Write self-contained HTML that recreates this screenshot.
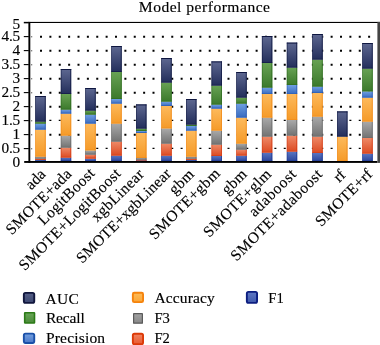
<!DOCTYPE html>
<html lang="en"><head><meta charset="utf-8"><title>Model performance</title>
<style>html,body{margin:0;padding:0;background:#fff}body{width:380px;height:345px;overflow:hidden}svg{display:block}text{font-family:"Liberation Serif","DejaVu Serif",serif;fill:#000;stroke:#000;stroke-width:0.15px}</style></head><body>
<svg width="380" height="345" viewBox="0 0 380 345">
<defs>
<linearGradient id="gF1" x1="0" y1="0" x2="0" y2="1"><stop offset="0" stop-color="#5a76c2"/><stop offset="1" stop-color="#2b459b"/></linearGradient>
<linearGradient id="gF2" x1="0" y1="0" x2="0" y2="1"><stop offset="0" stop-color="#ee8a68"/><stop offset="1" stop-color="#dc4a22"/></linearGradient>
<linearGradient id="gF3" x1="0" y1="0" x2="0" y2="1"><stop offset="0" stop-color="#a9a9a9"/><stop offset="1" stop-color="#727272"/></linearGradient>
<linearGradient id="gAcc" x1="0" y1="0" x2="0" y2="1"><stop offset="0" stop-color="#fdba5c"/><stop offset="1" stop-color="#f59a28"/></linearGradient>
<linearGradient id="gPre" x1="0" y1="0" x2="0" y2="1"><stop offset="0" stop-color="#70a0e2"/><stop offset="1" stop-color="#386abf"/></linearGradient>
<linearGradient id="gRec" x1="0" y1="0" x2="0" y2="1"><stop offset="0" stop-color="#68a254"/><stop offset="1" stop-color="#3b792b"/></linearGradient>
<linearGradient id="gAUC" x1="0" y1="0" x2="0" y2="1"><stop offset="0" stop-color="#5e6891"/><stop offset="1" stop-color="#232e5b"/></linearGradient>
</defs>
<rect width="380" height="345" fill="#fff"/>
<text x="138.8" y="11.6" font-size="15.6" textLength="131.2" lengthAdjust="spacing">Model performance</text>
<g stroke="#000" stroke-width="2" stroke-dasharray="2 7.375" fill="none">
<line x1="40.0" y1="148.40" x2="377.4" y2="148.40" stroke-width="1.2"/>
<line x1="40.0" y1="134.80" x2="377.4" y2="134.80"/>
<line x1="40.0" y1="120.40" x2="377.4" y2="120.40" stroke-width="1.2"/>
<line x1="40.0" y1="106.80" x2="377.4" y2="106.80"/>
<line x1="40.0" y1="92.80" x2="377.4" y2="92.80"/>
<line x1="40.0" y1="78.80" x2="377.4" y2="78.80"/>
<line x1="40.0" y1="64.80" x2="377.4" y2="64.80"/>
<line x1="40.0" y1="50.80" x2="377.4" y2="50.80"/>
<line x1="40.0" y1="36.80" x2="377.4" y2="36.80"/>
</g>
<g fill="#222">
<rect x="31.2" y="148.30" width="1" height="1"/>
<rect x="31.2" y="134.30" width="1" height="1"/>
<rect x="31.2" y="120.30" width="1" height="1"/>
<rect x="31.2" y="106.30" width="1" height="1"/>
<rect x="31.2" y="92.30" width="1" height="1"/>
<rect x="31.2" y="78.30" width="1" height="1"/>
<rect x="31.2" y="64.30" width="1" height="1"/>
<rect x="31.2" y="50.30" width="1" height="1"/>
<rect x="31.2" y="36.30" width="1" height="1"/>
</g>
<rect x="35.30" y="160.00" width="10.4" height="1.30" fill="url(#gF1)"/>
<rect x="35.30" y="160.00" width="0.7" height="1.30" fill="#1f3a93" opacity="0.8"/>
<rect x="44.80" y="160.00" width="0.9" height="1.30" fill="#1f3a93" opacity="0.9"/>
<rect x="35.30" y="160.50" width="10.4" height="0.8" fill="#1f3a93" opacity="0.7"/>
<rect x="35.30" y="158.60" width="10.4" height="1.40" fill="url(#gF2)"/>
<rect x="35.30" y="158.60" width="0.7" height="1.40" fill="#d43c14" opacity="0.8"/>
<rect x="44.80" y="158.60" width="0.9" height="1.40" fill="#d43c14" opacity="0.9"/>
<rect x="35.30" y="159.20" width="10.4" height="0.8" fill="#d43c14" opacity="0.7"/>
<rect x="35.30" y="156.60" width="10.4" height="2.00" fill="url(#gF3)"/>
<rect x="35.30" y="156.60" width="0.7" height="2.00" fill="#6a6a6a" opacity="0.8"/>
<rect x="44.80" y="156.60" width="0.9" height="2.00" fill="#6a6a6a" opacity="0.9"/>
<rect x="35.30" y="157.80" width="10.4" height="0.8" fill="#6a6a6a" opacity="0.7"/>
<rect x="35.30" y="129.60" width="10.4" height="27.00" fill="url(#gAcc)"/>
<rect x="35.30" y="129.60" width="0.7" height="27.00" fill="#f08a18" opacity="0.8"/>
<rect x="44.80" y="129.60" width="0.9" height="27.00" fill="#f08a18" opacity="0.9"/>
<rect x="35.30" y="155.80" width="10.4" height="0.8" fill="#f08a18" opacity="0.7"/>
<rect x="35.30" y="123.60" width="10.4" height="6.00" fill="url(#gPre)"/>
<rect x="35.30" y="123.60" width="0.7" height="6.00" fill="#2c5cb4" opacity="0.8"/>
<rect x="44.80" y="123.60" width="0.9" height="6.00" fill="#2c5cb4" opacity="0.9"/>
<rect x="35.30" y="128.80" width="10.4" height="0.8" fill="#2c5cb4" opacity="0.7"/>
<rect x="35.30" y="121.60" width="10.4" height="2.00" fill="url(#gRec)"/>
<rect x="35.30" y="121.60" width="0.7" height="2.00" fill="#2d6a1e" opacity="0.8"/>
<rect x="44.80" y="121.60" width="0.9" height="2.00" fill="#2d6a1e" opacity="0.9"/>
<rect x="35.30" y="122.80" width="10.4" height="0.8" fill="#2d6a1e" opacity="0.7"/>
<rect x="35.30" y="96.00" width="10.4" height="25.60" fill="url(#gAUC)"/>
<rect x="35.30" y="96.00" width="0.7" height="25.60" fill="#0e1640" opacity="0.8"/>
<rect x="44.80" y="96.00" width="0.9" height="25.60" fill="#0e1640" opacity="0.9"/>
<rect x="35.30" y="120.80" width="10.4" height="0.8" fill="#0e1640" opacity="0.7"/>
<rect x="35.30" y="96.00" width="10.4" height="1" fill="#0e1640"/>
<rect x="60.80" y="157.60" width="10.4" height="3.70" fill="url(#gF1)"/>
<rect x="60.80" y="157.60" width="0.7" height="3.70" fill="#1f3a93" opacity="0.8"/>
<rect x="70.30" y="157.60" width="0.9" height="3.70" fill="#1f3a93" opacity="0.9"/>
<rect x="60.80" y="160.50" width="10.4" height="0.8" fill="#1f3a93" opacity="0.7"/>
<rect x="60.80" y="147.60" width="10.4" height="10.00" fill="url(#gF2)"/>
<rect x="60.80" y="147.60" width="0.7" height="10.00" fill="#d43c14" opacity="0.8"/>
<rect x="70.30" y="147.60" width="0.9" height="10.00" fill="#d43c14" opacity="0.9"/>
<rect x="60.80" y="156.80" width="10.4" height="0.8" fill="#d43c14" opacity="0.7"/>
<rect x="60.80" y="135.60" width="10.4" height="12.00" fill="url(#gF3)"/>
<rect x="60.80" y="135.60" width="0.7" height="12.00" fill="#6a6a6a" opacity="0.8"/>
<rect x="70.30" y="135.60" width="0.9" height="12.00" fill="#6a6a6a" opacity="0.9"/>
<rect x="60.80" y="146.80" width="10.4" height="0.8" fill="#6a6a6a" opacity="0.7"/>
<rect x="60.80" y="113.60" width="10.4" height="22.00" fill="url(#gAcc)"/>
<rect x="60.80" y="113.60" width="0.7" height="22.00" fill="#f08a18" opacity="0.8"/>
<rect x="70.30" y="113.60" width="0.9" height="22.00" fill="#f08a18" opacity="0.9"/>
<rect x="60.80" y="134.80" width="10.4" height="0.8" fill="#f08a18" opacity="0.7"/>
<rect x="60.80" y="109.60" width="10.4" height="4.00" fill="url(#gPre)"/>
<rect x="60.80" y="109.60" width="0.7" height="4.00" fill="#2c5cb4" opacity="0.8"/>
<rect x="70.30" y="109.60" width="0.9" height="4.00" fill="#2c5cb4" opacity="0.9"/>
<rect x="60.80" y="112.80" width="10.4" height="0.8" fill="#2c5cb4" opacity="0.7"/>
<rect x="60.80" y="94.00" width="10.4" height="15.60" fill="url(#gRec)"/>
<rect x="60.80" y="94.00" width="0.7" height="15.60" fill="#2d6a1e" opacity="0.8"/>
<rect x="70.30" y="94.00" width="0.9" height="15.60" fill="#2d6a1e" opacity="0.9"/>
<rect x="60.80" y="108.80" width="10.4" height="0.8" fill="#2d6a1e" opacity="0.7"/>
<rect x="60.80" y="69.00" width="10.4" height="25.00" fill="url(#gAUC)"/>
<rect x="60.80" y="69.00" width="0.7" height="25.00" fill="#0e1640" opacity="0.8"/>
<rect x="70.30" y="69.00" width="0.9" height="25.00" fill="#0e1640" opacity="0.9"/>
<rect x="60.80" y="93.20" width="10.4" height="0.8" fill="#0e1640" opacity="0.7"/>
<rect x="60.80" y="69.00" width="10.4" height="1" fill="#0e1640"/>
<rect x="85.30" y="158.60" width="10.4" height="2.70" fill="url(#gF1)"/>
<rect x="85.30" y="158.60" width="0.7" height="2.70" fill="#1f3a93" opacity="0.8"/>
<rect x="94.80" y="158.60" width="0.9" height="2.70" fill="#1f3a93" opacity="0.9"/>
<rect x="85.30" y="160.50" width="10.4" height="0.8" fill="#1f3a93" opacity="0.7"/>
<rect x="85.30" y="154.60" width="10.4" height="4.00" fill="url(#gF2)"/>
<rect x="85.30" y="154.60" width="0.7" height="4.00" fill="#d43c14" opacity="0.8"/>
<rect x="94.80" y="154.60" width="0.9" height="4.00" fill="#d43c14" opacity="0.9"/>
<rect x="85.30" y="157.80" width="10.4" height="0.8" fill="#d43c14" opacity="0.7"/>
<rect x="85.30" y="150.40" width="10.4" height="4.20" fill="url(#gF3)"/>
<rect x="85.30" y="150.40" width="0.7" height="4.20" fill="#6a6a6a" opacity="0.8"/>
<rect x="94.80" y="150.40" width="0.9" height="4.20" fill="#6a6a6a" opacity="0.9"/>
<rect x="85.30" y="153.80" width="10.4" height="0.8" fill="#6a6a6a" opacity="0.7"/>
<rect x="85.30" y="123.60" width="10.4" height="26.80" fill="url(#gAcc)"/>
<rect x="85.30" y="123.60" width="0.7" height="26.80" fill="#f08a18" opacity="0.8"/>
<rect x="94.80" y="123.60" width="0.9" height="26.80" fill="#f08a18" opacity="0.9"/>
<rect x="85.30" y="149.60" width="10.4" height="0.8" fill="#f08a18" opacity="0.7"/>
<rect x="85.30" y="114.60" width="10.4" height="9.00" fill="url(#gPre)"/>
<rect x="85.30" y="114.60" width="0.7" height="9.00" fill="#2c5cb4" opacity="0.8"/>
<rect x="94.80" y="114.60" width="0.9" height="9.00" fill="#2c5cb4" opacity="0.9"/>
<rect x="85.30" y="122.80" width="10.4" height="0.8" fill="#2c5cb4" opacity="0.7"/>
<rect x="85.30" y="110.60" width="10.4" height="4.00" fill="url(#gRec)"/>
<rect x="85.30" y="110.60" width="0.7" height="4.00" fill="#2d6a1e" opacity="0.8"/>
<rect x="94.80" y="110.60" width="0.9" height="4.00" fill="#2d6a1e" opacity="0.9"/>
<rect x="85.30" y="113.80" width="10.4" height="0.8" fill="#2d6a1e" opacity="0.7"/>
<rect x="85.30" y="88.00" width="10.4" height="22.60" fill="url(#gAUC)"/>
<rect x="85.30" y="88.00" width="0.7" height="22.60" fill="#0e1640" opacity="0.8"/>
<rect x="94.80" y="88.00" width="0.9" height="22.60" fill="#0e1640" opacity="0.9"/>
<rect x="85.30" y="109.80" width="10.4" height="0.8" fill="#0e1640" opacity="0.7"/>
<rect x="85.30" y="88.00" width="10.4" height="1" fill="#0e1640"/>
<rect x="111.30" y="155.60" width="10.4" height="5.70" fill="url(#gF1)"/>
<rect x="111.30" y="155.60" width="0.7" height="5.70" fill="#1f3a93" opacity="0.8"/>
<rect x="120.80" y="155.60" width="0.9" height="5.70" fill="#1f3a93" opacity="0.9"/>
<rect x="111.30" y="160.50" width="10.4" height="0.8" fill="#1f3a93" opacity="0.7"/>
<rect x="111.30" y="141.60" width="10.4" height="14.00" fill="url(#gF2)"/>
<rect x="111.30" y="141.60" width="0.7" height="14.00" fill="#d43c14" opacity="0.8"/>
<rect x="120.80" y="141.60" width="0.9" height="14.00" fill="#d43c14" opacity="0.9"/>
<rect x="111.30" y="154.80" width="10.4" height="0.8" fill="#d43c14" opacity="0.7"/>
<rect x="111.30" y="123.60" width="10.4" height="18.00" fill="url(#gF3)"/>
<rect x="111.30" y="123.60" width="0.7" height="18.00" fill="#6a6a6a" opacity="0.8"/>
<rect x="120.80" y="123.60" width="0.9" height="18.00" fill="#6a6a6a" opacity="0.9"/>
<rect x="111.30" y="140.80" width="10.4" height="0.8" fill="#6a6a6a" opacity="0.7"/>
<rect x="111.30" y="103.60" width="10.4" height="20.00" fill="url(#gAcc)"/>
<rect x="111.30" y="103.60" width="0.7" height="20.00" fill="#f08a18" opacity="0.8"/>
<rect x="120.80" y="103.60" width="0.9" height="20.00" fill="#f08a18" opacity="0.9"/>
<rect x="111.30" y="122.80" width="10.4" height="0.8" fill="#f08a18" opacity="0.7"/>
<rect x="111.30" y="99.00" width="10.4" height="4.60" fill="url(#gPre)"/>
<rect x="111.30" y="99.00" width="0.7" height="4.60" fill="#2c5cb4" opacity="0.8"/>
<rect x="120.80" y="99.00" width="0.9" height="4.60" fill="#2c5cb4" opacity="0.9"/>
<rect x="111.30" y="102.80" width="10.4" height="0.8" fill="#2c5cb4" opacity="0.7"/>
<rect x="111.30" y="72.00" width="10.4" height="27.00" fill="url(#gRec)"/>
<rect x="111.30" y="72.00" width="0.7" height="27.00" fill="#2d6a1e" opacity="0.8"/>
<rect x="120.80" y="72.00" width="0.9" height="27.00" fill="#2d6a1e" opacity="0.9"/>
<rect x="111.30" y="98.20" width="10.4" height="0.8" fill="#2d6a1e" opacity="0.7"/>
<rect x="111.30" y="46.00" width="10.4" height="26.00" fill="url(#gAUC)"/>
<rect x="111.30" y="46.00" width="0.7" height="26.00" fill="#0e1640" opacity="0.8"/>
<rect x="120.80" y="46.00" width="0.9" height="26.00" fill="#0e1640" opacity="0.9"/>
<rect x="111.30" y="71.20" width="10.4" height="0.8" fill="#0e1640" opacity="0.7"/>
<rect x="111.30" y="46.00" width="10.4" height="1" fill="#0e1640"/>
<rect x="136.10" y="160.40" width="10.4" height="0.90" fill="url(#gF1)"/>
<rect x="136.10" y="160.40" width="0.7" height="0.90" fill="#1f3a93" opacity="0.8"/>
<rect x="145.60" y="160.40" width="0.9" height="0.90" fill="#1f3a93" opacity="0.9"/>
<rect x="136.10" y="160.50" width="10.4" height="0.8" fill="#1f3a93" opacity="0.7"/>
<rect x="136.10" y="159.60" width="10.4" height="0.80" fill="url(#gF2)"/>
<rect x="136.10" y="159.60" width="0.7" height="0.80" fill="#d43c14" opacity="0.8"/>
<rect x="145.60" y="159.60" width="0.9" height="0.80" fill="#d43c14" opacity="0.9"/>
<rect x="136.10" y="159.60" width="10.4" height="0.8" fill="#d43c14" opacity="0.7"/>
<rect x="136.10" y="158.00" width="10.4" height="1.60" fill="url(#gF3)"/>
<rect x="136.10" y="158.00" width="0.7" height="1.60" fill="#6a6a6a" opacity="0.8"/>
<rect x="145.60" y="158.00" width="0.9" height="1.60" fill="#6a6a6a" opacity="0.9"/>
<rect x="136.10" y="158.80" width="10.4" height="0.8" fill="#6a6a6a" opacity="0.7"/>
<rect x="136.10" y="133.00" width="10.4" height="25.00" fill="url(#gAcc)"/>
<rect x="136.10" y="133.00" width="0.7" height="25.00" fill="#f08a18" opacity="0.8"/>
<rect x="145.60" y="133.00" width="0.9" height="25.00" fill="#f08a18" opacity="0.9"/>
<rect x="136.10" y="157.20" width="10.4" height="0.8" fill="#f08a18" opacity="0.7"/>
<rect x="136.10" y="131.00" width="10.4" height="2.00" fill="url(#gPre)"/>
<rect x="136.10" y="131.00" width="0.7" height="2.00" fill="#2c5cb4" opacity="0.8"/>
<rect x="145.60" y="131.00" width="0.9" height="2.00" fill="#2c5cb4" opacity="0.9"/>
<rect x="136.10" y="132.20" width="10.4" height="0.8" fill="#2c5cb4" opacity="0.7"/>
<rect x="136.10" y="128.60" width="10.4" height="2.40" fill="url(#gRec)"/>
<rect x="136.10" y="128.60" width="0.7" height="2.40" fill="#2d6a1e" opacity="0.8"/>
<rect x="145.60" y="128.60" width="0.9" height="2.40" fill="#2d6a1e" opacity="0.9"/>
<rect x="136.10" y="130.20" width="10.4" height="0.8" fill="#2d6a1e" opacity="0.7"/>
<rect x="136.10" y="104.40" width="10.4" height="24.20" fill="url(#gAUC)"/>
<rect x="136.10" y="104.40" width="0.7" height="24.20" fill="#0e1640" opacity="0.8"/>
<rect x="145.60" y="104.40" width="0.9" height="24.20" fill="#0e1640" opacity="0.9"/>
<rect x="136.10" y="127.80" width="10.4" height="0.8" fill="#0e1640" opacity="0.7"/>
<rect x="136.10" y="104.40" width="10.4" height="1" fill="#0e1640"/>
<rect x="161.30" y="155.60" width="10.4" height="5.70" fill="url(#gF1)"/>
<rect x="161.30" y="155.60" width="0.7" height="5.70" fill="#1f3a93" opacity="0.8"/>
<rect x="170.80" y="155.60" width="0.9" height="5.70" fill="#1f3a93" opacity="0.9"/>
<rect x="161.30" y="160.50" width="10.4" height="0.8" fill="#1f3a93" opacity="0.7"/>
<rect x="161.30" y="143.60" width="10.4" height="12.00" fill="url(#gF2)"/>
<rect x="161.30" y="143.60" width="0.7" height="12.00" fill="#d43c14" opacity="0.8"/>
<rect x="170.80" y="143.60" width="0.9" height="12.00" fill="#d43c14" opacity="0.9"/>
<rect x="161.30" y="154.80" width="10.4" height="0.8" fill="#d43c14" opacity="0.7"/>
<rect x="161.30" y="128.40" width="10.4" height="15.20" fill="url(#gF3)"/>
<rect x="161.30" y="128.40" width="0.7" height="15.20" fill="#6a6a6a" opacity="0.8"/>
<rect x="170.80" y="128.40" width="0.9" height="15.20" fill="#6a6a6a" opacity="0.9"/>
<rect x="161.30" y="142.80" width="10.4" height="0.8" fill="#6a6a6a" opacity="0.7"/>
<rect x="161.30" y="106.00" width="10.4" height="22.40" fill="url(#gAcc)"/>
<rect x="161.30" y="106.00" width="0.7" height="22.40" fill="#f08a18" opacity="0.8"/>
<rect x="170.80" y="106.00" width="0.9" height="22.40" fill="#f08a18" opacity="0.9"/>
<rect x="161.30" y="127.60" width="10.4" height="0.8" fill="#f08a18" opacity="0.7"/>
<rect x="161.30" y="101.60" width="10.4" height="4.40" fill="url(#gPre)"/>
<rect x="161.30" y="101.60" width="0.7" height="4.40" fill="#2c5cb4" opacity="0.8"/>
<rect x="170.80" y="101.60" width="0.9" height="4.40" fill="#2c5cb4" opacity="0.9"/>
<rect x="161.30" y="105.20" width="10.4" height="0.8" fill="#2c5cb4" opacity="0.7"/>
<rect x="161.30" y="82.60" width="10.4" height="19.00" fill="url(#gRec)"/>
<rect x="161.30" y="82.60" width="0.7" height="19.00" fill="#2d6a1e" opacity="0.8"/>
<rect x="170.80" y="82.60" width="0.9" height="19.00" fill="#2d6a1e" opacity="0.9"/>
<rect x="161.30" y="100.80" width="10.4" height="0.8" fill="#2d6a1e" opacity="0.7"/>
<rect x="161.30" y="58.00" width="10.4" height="24.60" fill="url(#gAUC)"/>
<rect x="161.30" y="58.00" width="0.7" height="24.60" fill="#0e1640" opacity="0.8"/>
<rect x="170.80" y="58.00" width="0.9" height="24.60" fill="#0e1640" opacity="0.9"/>
<rect x="161.30" y="81.80" width="10.4" height="0.8" fill="#0e1640" opacity="0.7"/>
<rect x="161.30" y="58.00" width="10.4" height="1" fill="#0e1640"/>
<rect x="186.10" y="160.00" width="10.4" height="1.30" fill="url(#gF1)"/>
<rect x="186.10" y="160.00" width="0.7" height="1.30" fill="#1f3a93" opacity="0.8"/>
<rect x="195.60" y="160.00" width="0.9" height="1.30" fill="#1f3a93" opacity="0.9"/>
<rect x="186.10" y="160.50" width="10.4" height="0.8" fill="#1f3a93" opacity="0.7"/>
<rect x="186.10" y="158.60" width="10.4" height="1.40" fill="url(#gF2)"/>
<rect x="186.10" y="158.60" width="0.7" height="1.40" fill="#d43c14" opacity="0.8"/>
<rect x="195.60" y="158.60" width="0.9" height="1.40" fill="#d43c14" opacity="0.9"/>
<rect x="186.10" y="159.20" width="10.4" height="0.8" fill="#d43c14" opacity="0.7"/>
<rect x="186.10" y="156.60" width="10.4" height="2.00" fill="url(#gF3)"/>
<rect x="186.10" y="156.60" width="0.7" height="2.00" fill="#6a6a6a" opacity="0.8"/>
<rect x="195.60" y="156.60" width="0.9" height="2.00" fill="#6a6a6a" opacity="0.9"/>
<rect x="186.10" y="157.80" width="10.4" height="0.8" fill="#6a6a6a" opacity="0.7"/>
<rect x="186.10" y="130.60" width="10.4" height="26.00" fill="url(#gAcc)"/>
<rect x="186.10" y="130.60" width="0.7" height="26.00" fill="#f08a18" opacity="0.8"/>
<rect x="195.60" y="130.60" width="0.9" height="26.00" fill="#f08a18" opacity="0.9"/>
<rect x="186.10" y="155.80" width="10.4" height="0.8" fill="#f08a18" opacity="0.7"/>
<rect x="186.10" y="126.00" width="10.4" height="4.60" fill="url(#gPre)"/>
<rect x="186.10" y="126.00" width="0.7" height="4.60" fill="#2c5cb4" opacity="0.8"/>
<rect x="195.60" y="126.00" width="0.9" height="4.60" fill="#2c5cb4" opacity="0.9"/>
<rect x="186.10" y="129.80" width="10.4" height="0.8" fill="#2c5cb4" opacity="0.7"/>
<rect x="186.10" y="124.60" width="10.4" height="1.40" fill="url(#gRec)"/>
<rect x="186.10" y="124.60" width="0.7" height="1.40" fill="#2d6a1e" opacity="0.8"/>
<rect x="195.60" y="124.60" width="0.9" height="1.40" fill="#2d6a1e" opacity="0.9"/>
<rect x="186.10" y="125.20" width="10.4" height="0.8" fill="#2d6a1e" opacity="0.7"/>
<rect x="186.10" y="99.00" width="10.4" height="25.60" fill="url(#gAUC)"/>
<rect x="186.10" y="99.00" width="0.7" height="25.60" fill="#0e1640" opacity="0.8"/>
<rect x="195.60" y="99.00" width="0.9" height="25.60" fill="#0e1640" opacity="0.9"/>
<rect x="186.10" y="123.80" width="10.4" height="0.8" fill="#0e1640" opacity="0.7"/>
<rect x="186.10" y="99.00" width="10.4" height="1" fill="#0e1640"/>
<rect x="211.50" y="156.00" width="10.4" height="5.30" fill="url(#gF1)"/>
<rect x="211.50" y="156.00" width="0.7" height="5.30" fill="#1f3a93" opacity="0.8"/>
<rect x="221.00" y="156.00" width="0.9" height="5.30" fill="#1f3a93" opacity="0.9"/>
<rect x="211.50" y="160.50" width="10.4" height="0.8" fill="#1f3a93" opacity="0.7"/>
<rect x="211.50" y="144.60" width="10.4" height="11.40" fill="url(#gF2)"/>
<rect x="211.50" y="144.60" width="0.7" height="11.40" fill="#d43c14" opacity="0.8"/>
<rect x="221.00" y="144.60" width="0.9" height="11.40" fill="#d43c14" opacity="0.9"/>
<rect x="211.50" y="155.20" width="10.4" height="0.8" fill="#d43c14" opacity="0.7"/>
<rect x="211.50" y="130.60" width="10.4" height="14.00" fill="url(#gF3)"/>
<rect x="211.50" y="130.60" width="0.7" height="14.00" fill="#6a6a6a" opacity="0.8"/>
<rect x="221.00" y="130.60" width="0.9" height="14.00" fill="#6a6a6a" opacity="0.9"/>
<rect x="211.50" y="143.80" width="10.4" height="0.8" fill="#6a6a6a" opacity="0.7"/>
<rect x="211.50" y="108.60" width="10.4" height="22.00" fill="url(#gAcc)"/>
<rect x="211.50" y="108.60" width="0.7" height="22.00" fill="#f08a18" opacity="0.8"/>
<rect x="221.00" y="108.60" width="0.9" height="22.00" fill="#f08a18" opacity="0.9"/>
<rect x="211.50" y="129.80" width="10.4" height="0.8" fill="#f08a18" opacity="0.7"/>
<rect x="211.50" y="104.60" width="10.4" height="4.00" fill="url(#gPre)"/>
<rect x="211.50" y="104.60" width="0.7" height="4.00" fill="#2c5cb4" opacity="0.8"/>
<rect x="221.00" y="104.60" width="0.9" height="4.00" fill="#2c5cb4" opacity="0.9"/>
<rect x="211.50" y="107.80" width="10.4" height="0.8" fill="#2c5cb4" opacity="0.7"/>
<rect x="211.50" y="85.60" width="10.4" height="19.00" fill="url(#gRec)"/>
<rect x="211.50" y="85.60" width="0.7" height="19.00" fill="#2d6a1e" opacity="0.8"/>
<rect x="221.00" y="85.60" width="0.9" height="19.00" fill="#2d6a1e" opacity="0.9"/>
<rect x="211.50" y="103.80" width="10.4" height="0.8" fill="#2d6a1e" opacity="0.7"/>
<rect x="211.50" y="61.40" width="10.4" height="24.20" fill="url(#gAUC)"/>
<rect x="211.50" y="61.40" width="0.7" height="24.20" fill="#0e1640" opacity="0.8"/>
<rect x="221.00" y="61.40" width="0.9" height="24.20" fill="#0e1640" opacity="0.9"/>
<rect x="211.50" y="84.80" width="10.4" height="0.8" fill="#0e1640" opacity="0.7"/>
<rect x="211.50" y="61.40" width="10.4" height="1" fill="#0e1640"/>
<rect x="236.30" y="155.60" width="10.4" height="5.70" fill="url(#gF1)"/>
<rect x="236.30" y="155.60" width="0.7" height="5.70" fill="#1f3a93" opacity="0.8"/>
<rect x="245.80" y="155.60" width="0.9" height="5.70" fill="#1f3a93" opacity="0.9"/>
<rect x="236.30" y="160.50" width="10.4" height="0.8" fill="#1f3a93" opacity="0.7"/>
<rect x="236.30" y="149.60" width="10.4" height="6.00" fill="url(#gF2)"/>
<rect x="236.30" y="149.60" width="0.7" height="6.00" fill="#d43c14" opacity="0.8"/>
<rect x="245.80" y="149.60" width="0.9" height="6.00" fill="#d43c14" opacity="0.9"/>
<rect x="236.30" y="154.80" width="10.4" height="0.8" fill="#d43c14" opacity="0.7"/>
<rect x="236.30" y="143.60" width="10.4" height="6.00" fill="url(#gF3)"/>
<rect x="236.30" y="143.60" width="0.7" height="6.00" fill="#6a6a6a" opacity="0.8"/>
<rect x="245.80" y="143.60" width="0.9" height="6.00" fill="#6a6a6a" opacity="0.9"/>
<rect x="236.30" y="148.80" width="10.4" height="0.8" fill="#6a6a6a" opacity="0.7"/>
<rect x="236.30" y="117.60" width="10.4" height="26.00" fill="url(#gAcc)"/>
<rect x="236.30" y="117.60" width="0.7" height="26.00" fill="#f08a18" opacity="0.8"/>
<rect x="245.80" y="117.60" width="0.9" height="26.00" fill="#f08a18" opacity="0.9"/>
<rect x="236.30" y="142.80" width="10.4" height="0.8" fill="#f08a18" opacity="0.7"/>
<rect x="236.30" y="103.60" width="10.4" height="14.00" fill="url(#gPre)"/>
<rect x="236.30" y="103.60" width="0.7" height="14.00" fill="#2c5cb4" opacity="0.8"/>
<rect x="245.80" y="103.60" width="0.9" height="14.00" fill="#2c5cb4" opacity="0.9"/>
<rect x="236.30" y="116.80" width="10.4" height="0.8" fill="#2c5cb4" opacity="0.7"/>
<rect x="236.30" y="97.60" width="10.4" height="6.00" fill="url(#gRec)"/>
<rect x="236.30" y="97.60" width="0.7" height="6.00" fill="#2d6a1e" opacity="0.8"/>
<rect x="245.80" y="97.60" width="0.9" height="6.00" fill="#2d6a1e" opacity="0.9"/>
<rect x="236.30" y="102.80" width="10.4" height="0.8" fill="#2d6a1e" opacity="0.7"/>
<rect x="236.30" y="72.00" width="10.4" height="25.60" fill="url(#gAUC)"/>
<rect x="236.30" y="72.00" width="0.7" height="25.60" fill="#0e1640" opacity="0.8"/>
<rect x="245.80" y="72.00" width="0.9" height="25.60" fill="#0e1640" opacity="0.9"/>
<rect x="236.30" y="96.80" width="10.4" height="0.8" fill="#0e1640" opacity="0.7"/>
<rect x="236.30" y="72.00" width="10.4" height="1" fill="#0e1640"/>
<rect x="261.90" y="152.60" width="10.4" height="8.70" fill="url(#gF1)"/>
<rect x="261.90" y="152.60" width="0.7" height="8.70" fill="#1f3a93" opacity="0.8"/>
<rect x="271.40" y="152.60" width="0.9" height="8.70" fill="#1f3a93" opacity="0.9"/>
<rect x="261.90" y="160.50" width="10.4" height="0.8" fill="#1f3a93" opacity="0.7"/>
<rect x="261.90" y="136.60" width="10.4" height="16.00" fill="url(#gF2)"/>
<rect x="261.90" y="136.60" width="0.7" height="16.00" fill="#d43c14" opacity="0.8"/>
<rect x="271.40" y="136.60" width="0.9" height="16.00" fill="#d43c14" opacity="0.9"/>
<rect x="261.90" y="151.80" width="10.4" height="0.8" fill="#d43c14" opacity="0.7"/>
<rect x="261.90" y="117.60" width="10.4" height="19.00" fill="url(#gF3)"/>
<rect x="261.90" y="117.60" width="0.7" height="19.00" fill="#6a6a6a" opacity="0.8"/>
<rect x="271.40" y="117.60" width="0.9" height="19.00" fill="#6a6a6a" opacity="0.9"/>
<rect x="261.90" y="135.80" width="10.4" height="0.8" fill="#6a6a6a" opacity="0.7"/>
<rect x="261.90" y="94.00" width="10.4" height="23.60" fill="url(#gAcc)"/>
<rect x="261.90" y="94.00" width="0.7" height="23.60" fill="#f08a18" opacity="0.8"/>
<rect x="271.40" y="94.00" width="0.9" height="23.60" fill="#f08a18" opacity="0.9"/>
<rect x="261.90" y="116.80" width="10.4" height="0.8" fill="#f08a18" opacity="0.7"/>
<rect x="261.90" y="87.60" width="10.4" height="6.40" fill="url(#gPre)"/>
<rect x="261.90" y="87.60" width="0.7" height="6.40" fill="#2c5cb4" opacity="0.8"/>
<rect x="271.40" y="87.60" width="0.9" height="6.40" fill="#2c5cb4" opacity="0.9"/>
<rect x="261.90" y="93.20" width="10.4" height="0.8" fill="#2c5cb4" opacity="0.7"/>
<rect x="261.90" y="63.00" width="10.4" height="24.60" fill="url(#gRec)"/>
<rect x="261.90" y="63.00" width="0.7" height="24.60" fill="#2d6a1e" opacity="0.8"/>
<rect x="271.40" y="63.00" width="0.9" height="24.60" fill="#2d6a1e" opacity="0.9"/>
<rect x="261.90" y="86.80" width="10.4" height="0.8" fill="#2d6a1e" opacity="0.7"/>
<rect x="261.90" y="36.00" width="10.4" height="27.00" fill="url(#gAUC)"/>
<rect x="261.90" y="36.00" width="0.7" height="27.00" fill="#0e1640" opacity="0.8"/>
<rect x="271.40" y="36.00" width="0.9" height="27.00" fill="#0e1640" opacity="0.9"/>
<rect x="261.90" y="62.20" width="10.4" height="0.8" fill="#0e1640" opacity="0.7"/>
<rect x="261.90" y="36.00" width="10.4" height="1" fill="#0e1640"/>
<rect x="286.80" y="151.60" width="10.4" height="9.70" fill="url(#gF1)"/>
<rect x="286.80" y="151.60" width="0.7" height="9.70" fill="#1f3a93" opacity="0.8"/>
<rect x="296.30" y="151.60" width="0.9" height="9.70" fill="#1f3a93" opacity="0.9"/>
<rect x="286.80" y="160.50" width="10.4" height="0.8" fill="#1f3a93" opacity="0.7"/>
<rect x="286.80" y="135.60" width="10.4" height="16.00" fill="url(#gF2)"/>
<rect x="286.80" y="135.60" width="0.7" height="16.00" fill="#d43c14" opacity="0.8"/>
<rect x="296.30" y="135.60" width="0.9" height="16.00" fill="#d43c14" opacity="0.9"/>
<rect x="286.80" y="150.80" width="10.4" height="0.8" fill="#d43c14" opacity="0.7"/>
<rect x="286.80" y="120.00" width="10.4" height="15.60" fill="url(#gF3)"/>
<rect x="286.80" y="120.00" width="0.7" height="15.60" fill="#6a6a6a" opacity="0.8"/>
<rect x="296.30" y="120.00" width="0.9" height="15.60" fill="#6a6a6a" opacity="0.9"/>
<rect x="286.80" y="134.80" width="10.4" height="0.8" fill="#6a6a6a" opacity="0.7"/>
<rect x="286.80" y="94.00" width="10.4" height="26.00" fill="url(#gAcc)"/>
<rect x="286.80" y="94.00" width="0.7" height="26.00" fill="#f08a18" opacity="0.8"/>
<rect x="296.30" y="94.00" width="0.9" height="26.00" fill="#f08a18" opacity="0.9"/>
<rect x="286.80" y="119.20" width="10.4" height="0.8" fill="#f08a18" opacity="0.7"/>
<rect x="286.80" y="85.00" width="10.4" height="9.00" fill="url(#gPre)"/>
<rect x="286.80" y="85.00" width="0.7" height="9.00" fill="#2c5cb4" opacity="0.8"/>
<rect x="296.30" y="85.00" width="0.9" height="9.00" fill="#2c5cb4" opacity="0.9"/>
<rect x="286.80" y="93.20" width="10.4" height="0.8" fill="#2c5cb4" opacity="0.7"/>
<rect x="286.80" y="67.60" width="10.4" height="17.40" fill="url(#gRec)"/>
<rect x="286.80" y="67.60" width="0.7" height="17.40" fill="#2d6a1e" opacity="0.8"/>
<rect x="296.30" y="67.60" width="0.9" height="17.40" fill="#2d6a1e" opacity="0.9"/>
<rect x="286.80" y="84.20" width="10.4" height="0.8" fill="#2d6a1e" opacity="0.7"/>
<rect x="286.80" y="42.60" width="10.4" height="25.00" fill="url(#gAUC)"/>
<rect x="286.80" y="42.60" width="0.7" height="25.00" fill="#0e1640" opacity="0.8"/>
<rect x="296.30" y="42.60" width="0.9" height="25.00" fill="#0e1640" opacity="0.9"/>
<rect x="286.80" y="66.80" width="10.4" height="0.8" fill="#0e1640" opacity="0.7"/>
<rect x="286.80" y="42.60" width="10.4" height="1" fill="#0e1640"/>
<rect x="312.30" y="153.00" width="10.4" height="8.30" fill="url(#gF1)"/>
<rect x="312.30" y="153.00" width="0.7" height="8.30" fill="#1f3a93" opacity="0.8"/>
<rect x="321.80" y="153.00" width="0.9" height="8.30" fill="#1f3a93" opacity="0.9"/>
<rect x="312.30" y="160.50" width="10.4" height="0.8" fill="#1f3a93" opacity="0.7"/>
<rect x="312.30" y="136.60" width="10.4" height="16.40" fill="url(#gF2)"/>
<rect x="312.30" y="136.60" width="0.7" height="16.40" fill="#d43c14" opacity="0.8"/>
<rect x="321.80" y="136.60" width="0.9" height="16.40" fill="#d43c14" opacity="0.9"/>
<rect x="312.30" y="152.20" width="10.4" height="0.8" fill="#d43c14" opacity="0.7"/>
<rect x="312.30" y="116.60" width="10.4" height="20.00" fill="url(#gF3)"/>
<rect x="312.30" y="116.60" width="0.7" height="20.00" fill="#6a6a6a" opacity="0.8"/>
<rect x="321.80" y="116.60" width="0.9" height="20.00" fill="#6a6a6a" opacity="0.9"/>
<rect x="312.30" y="135.80" width="10.4" height="0.8" fill="#6a6a6a" opacity="0.7"/>
<rect x="312.30" y="93.00" width="10.4" height="23.60" fill="url(#gAcc)"/>
<rect x="312.30" y="93.00" width="0.7" height="23.60" fill="#f08a18" opacity="0.8"/>
<rect x="321.80" y="93.00" width="0.9" height="23.60" fill="#f08a18" opacity="0.9"/>
<rect x="312.30" y="115.80" width="10.4" height="0.8" fill="#f08a18" opacity="0.7"/>
<rect x="312.30" y="86.60" width="10.4" height="6.40" fill="url(#gPre)"/>
<rect x="312.30" y="86.60" width="0.7" height="6.40" fill="#2c5cb4" opacity="0.8"/>
<rect x="321.80" y="86.60" width="0.9" height="6.40" fill="#2c5cb4" opacity="0.9"/>
<rect x="312.30" y="92.20" width="10.4" height="0.8" fill="#2c5cb4" opacity="0.7"/>
<rect x="312.30" y="59.60" width="10.4" height="27.00" fill="url(#gRec)"/>
<rect x="312.30" y="59.60" width="0.7" height="27.00" fill="#2d6a1e" opacity="0.8"/>
<rect x="321.80" y="59.60" width="0.9" height="27.00" fill="#2d6a1e" opacity="0.9"/>
<rect x="312.30" y="85.80" width="10.4" height="0.8" fill="#2d6a1e" opacity="0.7"/>
<rect x="312.30" y="34.00" width="10.4" height="25.60" fill="url(#gAUC)"/>
<rect x="312.30" y="34.00" width="0.7" height="25.60" fill="#0e1640" opacity="0.8"/>
<rect x="321.80" y="34.00" width="0.9" height="25.60" fill="#0e1640" opacity="0.9"/>
<rect x="312.30" y="58.80" width="10.4" height="0.8" fill="#0e1640" opacity="0.7"/>
<rect x="312.30" y="34.00" width="10.4" height="1" fill="#0e1640"/>
<rect x="337.10" y="136.60" width="10.4" height="24.70" fill="url(#gAcc)"/>
<rect x="337.10" y="136.60" width="0.7" height="24.70" fill="#f08a18" opacity="0.8"/>
<rect x="346.60" y="136.60" width="0.9" height="24.70" fill="#f08a18" opacity="0.9"/>
<rect x="337.10" y="160.50" width="10.4" height="0.8" fill="#f08a18" opacity="0.7"/>
<rect x="337.10" y="111.40" width="10.4" height="25.20" fill="url(#gAUC)"/>
<rect x="337.10" y="111.40" width="0.7" height="25.20" fill="#0e1640" opacity="0.8"/>
<rect x="346.60" y="111.40" width="0.9" height="25.20" fill="#0e1640" opacity="0.9"/>
<rect x="337.10" y="135.80" width="10.4" height="0.8" fill="#0e1640" opacity="0.7"/>
<rect x="337.10" y="111.40" width="10.4" height="1" fill="#0e1640"/>
<rect x="362.30" y="153.60" width="10.4" height="7.70" fill="url(#gF1)"/>
<rect x="362.30" y="153.60" width="0.7" height="7.70" fill="#1f3a93" opacity="0.8"/>
<rect x="371.80" y="153.60" width="0.9" height="7.70" fill="#1f3a93" opacity="0.9"/>
<rect x="362.30" y="160.50" width="10.4" height="0.8" fill="#1f3a93" opacity="0.7"/>
<rect x="362.30" y="138.00" width="10.4" height="15.60" fill="url(#gF2)"/>
<rect x="362.30" y="138.00" width="0.7" height="15.60" fill="#d43c14" opacity="0.8"/>
<rect x="371.80" y="138.00" width="0.9" height="15.60" fill="#d43c14" opacity="0.9"/>
<rect x="362.30" y="152.80" width="10.4" height="0.8" fill="#d43c14" opacity="0.7"/>
<rect x="362.30" y="121.60" width="10.4" height="16.40" fill="url(#gF3)"/>
<rect x="362.30" y="121.60" width="0.7" height="16.40" fill="#6a6a6a" opacity="0.8"/>
<rect x="371.80" y="121.60" width="0.9" height="16.40" fill="#6a6a6a" opacity="0.9"/>
<rect x="362.30" y="137.20" width="10.4" height="0.8" fill="#6a6a6a" opacity="0.7"/>
<rect x="362.30" y="97.60" width="10.4" height="24.00" fill="url(#gAcc)"/>
<rect x="362.30" y="97.60" width="0.7" height="24.00" fill="#f08a18" opacity="0.8"/>
<rect x="371.80" y="97.60" width="0.9" height="24.00" fill="#f08a18" opacity="0.9"/>
<rect x="362.30" y="120.80" width="10.4" height="0.8" fill="#f08a18" opacity="0.7"/>
<rect x="362.30" y="91.40" width="10.4" height="6.20" fill="url(#gPre)"/>
<rect x="362.30" y="91.40" width="0.7" height="6.20" fill="#2c5cb4" opacity="0.8"/>
<rect x="371.80" y="91.40" width="0.9" height="6.20" fill="#2c5cb4" opacity="0.9"/>
<rect x="362.30" y="96.80" width="10.4" height="0.8" fill="#2c5cb4" opacity="0.7"/>
<rect x="362.30" y="68.60" width="10.4" height="22.80" fill="url(#gRec)"/>
<rect x="362.30" y="68.60" width="0.7" height="22.80" fill="#2d6a1e" opacity="0.8"/>
<rect x="371.80" y="68.60" width="0.9" height="22.80" fill="#2d6a1e" opacity="0.9"/>
<rect x="362.30" y="90.60" width="10.4" height="0.8" fill="#2d6a1e" opacity="0.7"/>
<rect x="362.30" y="43.00" width="10.4" height="25.60" fill="url(#gAUC)"/>
<rect x="362.30" y="43.00" width="0.7" height="25.60" fill="#0e1640" opacity="0.8"/>
<rect x="371.80" y="43.00" width="0.9" height="25.60" fill="#0e1640" opacity="0.9"/>
<rect x="362.30" y="67.80" width="10.4" height="0.8" fill="#0e1640" opacity="0.7"/>
<rect x="362.30" y="43.00" width="10.4" height="1" fill="#0e1640"/>
<g fill="#000">
<rect x="28.4" y="21.9" width="1.9" height="141"/>
<rect x="28.4" y="21.9" width="351.6" height="1.1"/>
<rect x="24.2" y="161.0" width="353.2" height="1.9"/>
<rect x="377.4" y="21.9" width="2.6" height="141" fill="#444"/>
<rect x="23.8" y="148.05" width="5" height="1.1"/>
<rect x="23.8" y="134.05" width="5" height="1.1"/>
<rect x="23.8" y="120.05" width="5" height="1.1"/>
<rect x="23.8" y="106.05" width="5" height="1.1"/>
<rect x="23.8" y="92.05" width="5" height="1.1"/>
<rect x="23.8" y="78.05" width="5" height="1.1"/>
<rect x="23.8" y="64.05" width="5" height="1.1"/>
<rect x="23.8" y="50.05" width="5" height="1.1"/>
<rect x="23.8" y="36.05" width="5" height="1.1"/>
<rect x="23.8" y="21.85" width="5" height="1.5"/>
</g>
<text x="19.8" y="167.10" font-size="15.3" text-anchor="end" letter-spacing="-0.3">0</text>
<text x="19.8" y="153.10" font-size="15.3" text-anchor="end" letter-spacing="-0.3">0.5</text>
<text x="19.8" y="139.10" font-size="15.3" text-anchor="end" letter-spacing="-0.3">1</text>
<text x="19.8" y="125.10" font-size="15.3" text-anchor="end" letter-spacing="-0.3">1.5</text>
<text x="19.8" y="111.10" font-size="15.3" text-anchor="end" letter-spacing="-0.3">2</text>
<text x="19.8" y="97.10" font-size="15.3" text-anchor="end" letter-spacing="-0.3">2.5</text>
<text x="19.8" y="83.10" font-size="15.3" text-anchor="end" letter-spacing="-0.3">3</text>
<text x="19.8" y="69.10" font-size="15.3" text-anchor="end" letter-spacing="-0.3">3.5</text>
<text x="19.8" y="55.10" font-size="15.3" text-anchor="end" letter-spacing="-0.3">4</text>
<text x="19.8" y="41.10" font-size="15.3" text-anchor="end" letter-spacing="-0.3">4.5</text>
<text x="19.8" y="29.10" font-size="15.3" text-anchor="end" letter-spacing="-0.3">5</text>
<text transform="translate(31.29,190.41) rotate(-45)" font-size="15.5" textLength="21.5" lengthAdjust="spacing">ada</text>
<text transform="translate(11.71,235.49) rotate(-45)" font-size="15.5" textLength="85.7" lengthAdjust="spacing">SMOTE+ada</text>
<text transform="translate(43.85,225.85) rotate(-45)" font-size="15.5" textLength="73.0" lengthAdjust="spacing">LogitBoost</text>
<text transform="translate(24.78,271.32) rotate(-45)" font-size="15.5" textLength="136.9" lengthAdjust="spacing">SMOTE+LogitBoost</text>
<text transform="translate(97.31,222.49) rotate(-45)" font-size="15.5" textLength="66.9" lengthAdjust="spacing">xgbLinear</text>
<text transform="translate(82.37,264.03) rotate(-45)" font-size="15.5" textLength="126.5" lengthAdjust="spacing">SMOTE+xgbLinear</text>
<text transform="translate(174.73,195.27) rotate(-45)" font-size="15.5" textLength="28.4" lengthAdjust="spacing">gbm</text>
<text transform="translate(155.06,240.14) rotate(-45)" font-size="15.5" textLength="92.8" lengthAdjust="spacing">SMOTE+gbm</text>
<text transform="translate(227.43,195.27) rotate(-45)" font-size="15.5" textLength="28.4" lengthAdjust="spacing">gbm</text>
<text transform="translate(209.31,237.99) rotate(-45)" font-size="15.5" textLength="88.8" lengthAdjust="spacing">SMOTE+glm</text>
<text transform="translate(254.73,217.47) rotate(-45)" font-size="15.5" textLength="59.8" lengthAdjust="spacing">adaboost</text>
<text transform="translate(236.55,261.85) rotate(-45)" font-size="15.5" textLength="122.5" lengthAdjust="spacing">SMOTE+adaboost</text>
<text transform="translate(339.20,183.00) rotate(-45)" font-size="15.5" textLength="10.3" lengthAdjust="spacing">rf</text>
<text transform="translate(321.16,227.24) rotate(-45)" font-size="15.5" textLength="73.6" lengthAdjust="spacing">SMOTE+rf</text>
<linearGradient id="lg0" x1="0" y1="0" x2="0" y2="1"><stop offset="0" stop-color="#566087"/><stop offset="1" stop-color="#3b4670"/></linearGradient>
<rect x="23.85" y="292.85" width="10.40" height="10.00" rx="1.6" fill="url(#lg0)" stroke="#10163c" stroke-width="1.9"/>
<text x="45.6" y="303.5" font-size="15.5" textLength="33.2" lengthAdjust="spacing">AUC</text>
<linearGradient id="lg1" x1="0" y1="0" x2="0" y2="1"><stop offset="0" stop-color="#6aa658"/><stop offset="1" stop-color="#4a8a38"/></linearGradient>
<rect x="24.70" y="312.70" width="9.80" height="10.30" rx="0.4" fill="url(#lg1)" stroke="#2b7a16" stroke-width="1.6"/>
<text x="45.9" y="323.4" font-size="15.5" textLength="38.9" lengthAdjust="spacing">Recall</text>
<linearGradient id="lg2" x1="0" y1="0" x2="0" y2="1"><stop offset="0" stop-color="#74a0e0"/><stop offset="1" stop-color="#4a78c8"/></linearGradient>
<rect x="23.85" y="333.65" width="10.40" height="9.30" rx="1.6" fill="url(#lg2)" stroke="#1a50a8" stroke-width="1.9"/>
<text x="45.9" y="343.2" font-size="15.5" textLength="59.2" lengthAdjust="spacing">Precision</text>
<linearGradient id="lg3" x1="0" y1="0" x2="0" y2="1"><stop offset="0" stop-color="#fdbc58"/><stop offset="1" stop-color="#fba535"/></linearGradient>
<rect x="132.85" y="292.75" width="10.20" height="9.40" rx="1.4" fill="url(#lg3)" stroke="#f5830c" stroke-width="1.9"/>
<text x="154.5" y="303.0" font-size="15.5" textLength="60.3" lengthAdjust="spacing">Accuracy</text>
<linearGradient id="lg4" x1="0" y1="0" x2="0" y2="1"><stop offset="0" stop-color="#a2a2a2"/><stop offset="1" stop-color="#888888"/></linearGradient>
<rect x="133.60" y="313.60" width="8.80" height="9.60" rx="0.3" fill="url(#lg4)" stroke="#5a5a5a" stroke-width="1.2"/>
<text x="154.4" y="323.0" font-size="14.6">F3</text>
<linearGradient id="lg5" x1="0" y1="0" x2="0" y2="1"><stop offset="0" stop-color="#f08462"/><stop offset="1" stop-color="#e85a30"/></linearGradient>
<rect x="132.85" y="333.75" width="10.20" height="10.50" rx="1.6" fill="url(#lg5)" stroke="#dc3a08" stroke-width="1.9"/>
<text x="154.4" y="343.2" font-size="14.6">F2</text>
<linearGradient id="lg6" x1="0" y1="0" x2="0" y2="1"><stop offset="0" stop-color="#6079c4"/><stop offset="1" stop-color="#3e58ac"/></linearGradient>
<rect x="246.85" y="291.85" width="10.20" height="11.00" rx="1.6" fill="url(#lg6)" stroke="#0c1e80" stroke-width="1.9"/>
<text x="268.3" y="303.0" font-size="14.6">F1</text>
</svg></body></html>
